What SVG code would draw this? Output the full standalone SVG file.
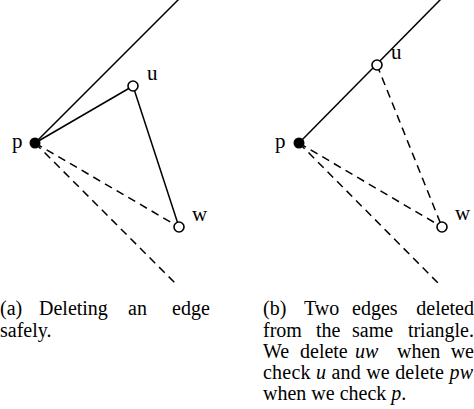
<svg xmlns="http://www.w3.org/2000/svg" width="474" height="409" viewBox="0 0 474 409">
<style>
.e{stroke:#000;stroke-width:1.5;fill:none}
.d{stroke-dasharray:8 5.5}
.o{fill:#fff;stroke:#000;stroke-width:1.6}
.f{fill:#000}
text{font-family:"Liberation Serif","Times New Roman",serif;font-size:20px;fill:#000}
.l{font-size:21px}
.i{font-style:italic}
</style>
<rect width="474" height="409" fill="#fff"/>
<g id="connectors">
<line class="e" x1="35" y1="143" x2="179" y2="-1"/>
<line class="e" x1="35" y1="143" x2="133" y2="86"/>
<line class="e" x1="133" y1="86" x2="179" y2="227"/>
<line class="e d" x1="35" y1="143" x2="179" y2="227"/>
<line class="e d" x1="35" y1="143" x2="177" y2="285"/>
<line class="e" x1="299" y1="143" x2="441" y2="-1"/>
<line class="e d" x1="377" y1="65" x2="442" y2="227"/>
<line class="e d" x1="299" y1="143" x2="442" y2="227"/>
<line class="e d" x1="299" y1="143" x2="440" y2="285"/>
</g>
<g id="a-p"><circle class="f" cx="35" cy="143" r="5.5"/><text class="l" x="12" y="148">p</text></g>
<g id="a-u"><circle class="o" cx="133" cy="86" r="5"/><text class="l" x="147" y="80">u</text></g>
<g id="a-w"><circle class="o" cx="179" cy="227" r="5"/><text class="l" x="192" y="221">w</text></g>
<g id="b-p"><circle class="f" cx="299" cy="143" r="5.5"/><text class="l" x="275" y="148">p</text></g>
<g id="b-u"><circle class="o" cx="377" cy="65" r="5"/><text class="l" x="391" y="59">u</text></g>
<g id="b-w"><circle class="o" cx="442" cy="227" r="5"/><text class="l" x="455" y="220">w</text></g>
<g id="caption-a">
<text y="315"><tspan x="0">(a)</tspan><tspan x="39">Deleting</tspan><tspan x="128">an</tspan><tspan x="172">edge</tspan></text>
<text x="0" y="337">safely.</text>
</g>
<g id="caption-b">
<text y="315"><tspan x="263">(b)</tspan><tspan x="304">Two</tspan><tspan x="352">edges</tspan><tspan x="474" text-anchor="end">deleted</tspan></text>
<text y="337"><tspan x="263">from</tspan><tspan x="316">the</tspan><tspan x="352">same</tspan><tspan x="474" text-anchor="end">triangle.</tspan></text>
<text y="358"><tspan x="263">We</tspan><tspan x="300">delete</tspan><tspan x="355" class="i">uw</tspan><tspan x="397">when</tspan><tspan x="474" text-anchor="end">we</tspan></text>
<text x="263" y="379" textLength="210" lengthAdjust="spacing">check <tspan class="i">u</tspan> and we delete <tspan class="i">pw</tspan></text>
<text x="263" y="400">when we check <tspan class="i">p</tspan>.</text>
</g>
</svg>
